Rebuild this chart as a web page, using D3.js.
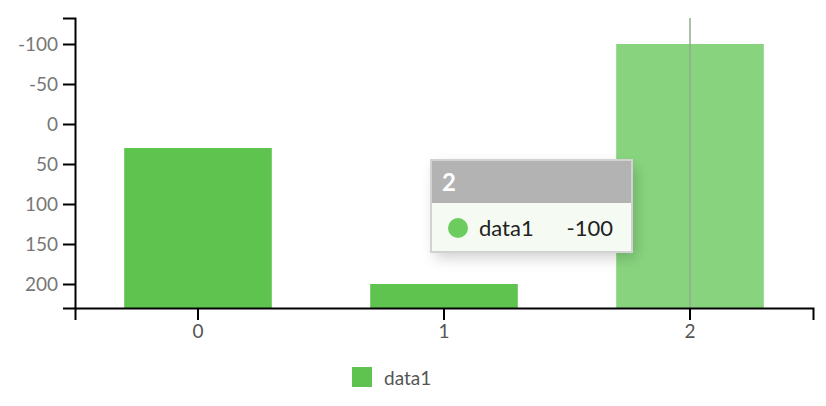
<!DOCTYPE html>
<html><head><meta charset="utf-8">
<script src="https://cdn.jsdelivr.net/npm/d3@7/dist/d3.min.js"></script>
<style>
body{margin:0;background:#fff;font-family:"Lato",sans-serif;}
svg{display:block}
</style></head><body>
<svg id="c" width="826" height="406"></svg>
<script>
const categories = ["0","1","2"];
const data1 = [30, 200, -100];
const yTicks = [-100,-50,0,50,100,150,200];
const seriesName = "data1";
const hoverIndex = 2;

const svg = d3.select("#c");
const FONT = "Lato, sans-serif";
const L = 75, R = 813, T = 18, B = 308;
const x = d3.scaleBand().domain(categories).range([L, R]);
const y = d3.scaleLinear().domain([-132.5, 230]).range([T, B]);
const green = "#5fc350";

// bars (from the axis bottom to the value, inverted axis)
svg.selectAll("rect.bar").data(data1).enter().append("rect")
  .attr("x", (d,i)=> x(categories[i]) + x.bandwidth()*0.2)
  .attr("width", x.bandwidth()*0.6)
  .attr("y", d=> y(d))
  .attr("height", d=> B - y(d))
  .attr("fill", (d,i)=> i===hoverIndex ? "#88d47e" : green);

// hover line
svg.append("line")
  .attr("x1", x(categories[hoverIndex]) + x.bandwidth()/2)
  .attr("x2", x(categories[hoverIndex]) + x.bandwidth()/2)
  .attr("y1", T).attr("y2", B)
  .attr("stroke", "#8fae8a").attr("stroke-width", 1.5);

// y axis
const ya = svg.append("g").attr("transform", `translate(${L},0)`)
  .call(d3.axisLeft(y).tickValues(yTicks).tickFormat(d=>String(d)).tickSize(12).tickSizeOuter(12).tickPadding(5));
ya.selectAll("path,line").attr("stroke","#000").attr("stroke-width",2);
ya.selectAll("text").attr("fill","#777").style("font-size","19px").style("font-family",FONT);

// x axis
const xa = svg.append("g").attr("transform", `translate(0,${B})`)
  .call(d3.axisBottom(x).tickSize(12).tickSizeOuter(12).tickPadding(5));
xa.selectAll("path,line").attr("stroke","#000").attr("stroke-width",2);
xa.selectAll("text").attr("fill","#555").style("font-size","19px").style("font-family",FONT);

// legend
svg.append("rect").attr("x",352).attr("y",367).attr("width",20).attr("height",20).attr("fill",green);
svg.append("text").attr("x",384).attr("y",385).text(seriesName)
  .attr("fill","#555").style("font-size","19px").style("font-family",FONT);

// tooltip
const defs = svg.append("defs");
const f = defs.append("filter").attr("id","sh").attr("x","-20%").attr("y","-20%").attr("width","150%").attr("height","160%");
f.append("feDropShadow").attr("dx",4).attr("dy",6).attr("stdDeviation",7).attr("flood-color","#000").attr("flood-opacity",0.18);
const tt = svg.append("g").attr("transform","translate(431,160)");
tt.append("rect").attr("width",201).attr("height",92).attr("fill","#f5fbf3").attr("filter","url(#sh)");
tt.append("rect").attr("width",201).attr("height",43).attr("fill","#b3b3b3");
tt.append("rect").attr("width",201).attr("height",92).attr("fill","none").attr("stroke","#d2d2d2").attr("stroke-width",2);
tt.append("text").attr("x",11).attr("y",31).text(categories[hoverIndex])
  .attr("fill","#fff").style("font-size","24px").style("font-weight","bold").style("font-family",FONT);
tt.append("circle").attr("cx",27).attr("cy",68).attr("r",10).attr("fill","#6ccc5e");
tt.append("text").attr("x",48).attr("y",76).text(seriesName).attr("fill","#222").style("font-size","22px").style("font-family",FONT);
tt.append("text").attr("x",182).attr("y",76).attr("text-anchor","end").text(String(data1[hoverIndex])).attr("fill","#222").style("font-size","22px").style("font-family",FONT);
</script>
</body></html>
